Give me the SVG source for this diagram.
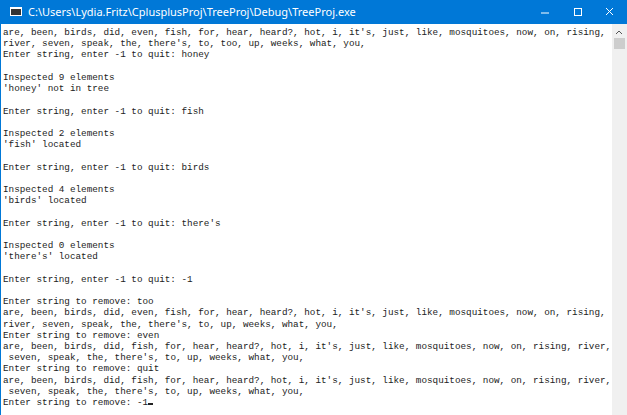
<svg xmlns="http://www.w3.org/2000/svg" width="627" height="415" viewBox="0 0 627 415">
<style>
text.c{font-family:"Liberation Mono","DejaVu Sans Mono",monospace;font-size:9.3px;fill:#222;white-space:pre}
.t{font-family:"Segoe UI","Noto Sans","Liberation Sans",sans-serif;font-size:11px;fill:#fff}
</style>
<rect width="627" height="415" fill="#fff"/>
<g id="titlebar">
<rect width="627" height="24" fill="#0078d7"/>
<rect x="10" y="7" width="12" height="9" fill="#fff"/>
<rect x="11" y="9" width="10" height="6" fill="#333"/>
<text class="t" x="28" y="16">C:\Users\Lydia.Fritz\CplusplusProj\TreeProj\Debug\TreeProj.exe</text>
<line x1="541" y1="13" x2="549" y2="13" stroke="#fff"/>
<rect x="574.5" y="8.5" width="7" height="7" fill="none" stroke="#fff"/>
<path d="M606 8l7 7M613 8l-7 7" stroke="#fff"/>
</g>
<rect x="0" y="24" width="1" height="391" fill="#0078d7"/>
<g id="scrollbar">
<rect x="612" y="24" width="15" height="391" fill="#f0f0f0"/>
<path d="M616 34l3-3 3 3" fill="none" stroke="#555"/>
<rect x="614" y="38" width="11" height="11" fill="#cdcdcd"/>
</g>
<g id="console">
<text class="c" x="3" y="35">are, been, birds, did, even, fish, for, hear, heard?, hot, i, it's, just, like, mosquitoes, now, on, rising,</text>
<text class="c" x="3" y="46.2">river, seven, speak, the, there's, to, too, up, weeks, what, you,</text>
<text class="c" x="3" y="57.4">Enter string, enter -1 to quit: honey</text>
<text class="c" x="3" y="79.8">Inspected 9 elements</text>
<text class="c" x="3" y="91">'honey' not in tree</text>
<text class="c" x="3" y="113.5">Enter string, enter -1 to quit: fish</text>
<text class="c" x="3" y="135.9">Inspected 2 elements</text>
<text class="c" x="3" y="147.1">'fish' located</text>
<text class="c" x="3" y="169.5">Enter string, enter -1 to quit: birds</text>
<text class="c" x="3" y="191.9">Inspected 4 elements</text>
<text class="c" x="3" y="203.1">'birds' located</text>
<text class="c" x="3" y="225.6">Enter string, enter -1 to quit: there's</text>
<text class="c" x="3" y="248">Inspected 0 elements</text>
<text class="c" x="3" y="259.2">'there's' located</text>
<text class="c" x="3" y="281.6">Enter string, enter -1 to quit: -1</text>
<text class="c" x="3" y="304">Enter string to remove: too</text>
<text class="c" x="3" y="315.3">are, been, birds, did, even, fish, for, hear, heard?, hot, i, it's, just, like, mosquitoes, now, on, rising,</text>
<text class="c" x="3" y="326.5">river, seven, speak, the, there's, to, up, weeks, what, you,</text>
<text class="c" x="3" y="337.7">Enter string to remove: even</text>
<text class="c" x="3" y="348.9">are, been, birds, did, fish, for, hear, heard?, hot, i, it's, just, like, mosquitoes, now, on, rising, river,</text>
<text class="c" x="8.6" y="360.1">seven, speak, the, there's, to, up, weeks, what, you,</text>
<text class="c" x="3" y="371.3">Enter string to remove: quit</text>
<text class="c" x="3" y="382.5">are, been, birds, did, fish, for, hear, heard?, hot, i, it's, just, like, mosquitoes, now, on, rising, river,</text>
<text class="c" x="8.6" y="393.7">seven, speak, the, there's, to, up, weeks, what, you,</text>
<text class="c" x="3" y="405">Enter string to remove: -1</text>
<rect x="148" y="403" width="5" height="2" fill="#222"/>
</g>
</svg>
